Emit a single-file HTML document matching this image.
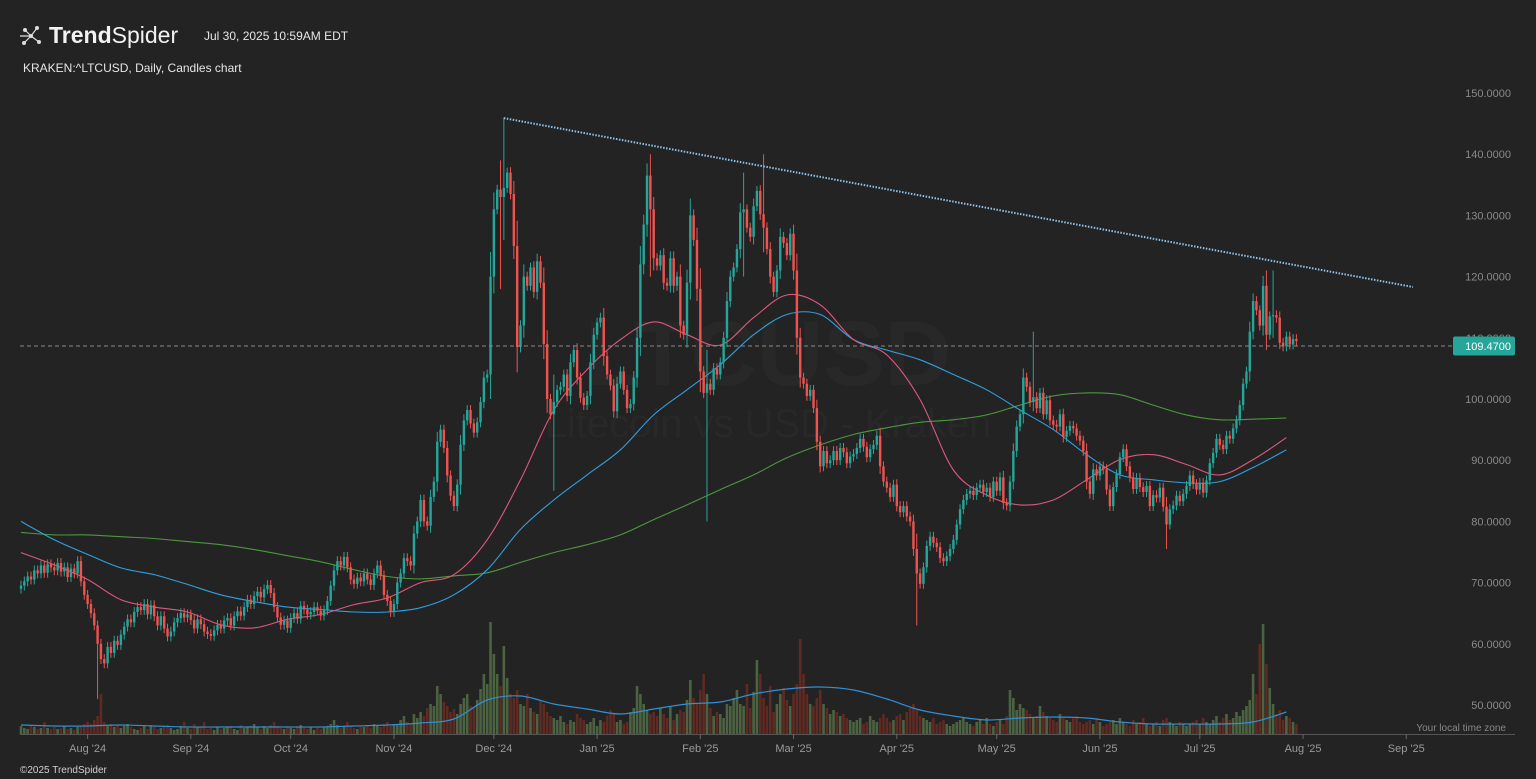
<!DOCTYPE html>
<html><head><meta charset="utf-8"><style>
html,body{margin:0;padding:0;background:#232323;width:1536px;height:779px;overflow:hidden;font-family:"Liberation Sans",sans-serif}
svg{position:absolute;left:0;top:0}
</style></head><body>
<svg id="chart" width="1536" height="779">
<rect width="1536" height="779" fill="#232323"/>
<g>
<text x="768" y="385" text-anchor="middle" font-size="92" font-weight="bold" fill="#282828">LTCUSD</text>
<text x="768" y="437" text-anchor="middle" font-size="40" fill="#282828">Litecoin vs USD - Kraken</text>
</g>
<g>
<circle cx="25" cy="30" r="2" fill="#ddd"/><circle cx="37" cy="28" r="2" fill="#ddd"/><circle cx="31" cy="36" r="2" fill="#ddd"/><circle cx="24" cy="43" r="2" fill="#ddd"/><circle cx="39" cy="42" r="2" fill="#ddd"/>
<path d="M25 30L31 36L37 28M31 36L24 43M31 36L39 42M20 36L31 36" stroke="#ddd" stroke-width="1.2" fill="none"/>
<text x="49" y="43" font-size="23" fill="#f2f2f2"><tspan font-weight="bold">Trend</tspan>Spider</text>
</g>
<text x="204" y="40" font-size="12" fill="#e6e6e6">Jul 30, 2025 10:59AM EDT</text>
<text x="23" y="72" font-size="12" fill="#e6e6e6">KRAKEN:^LTCUSD, Daily, Candles chart</text>
<text x="20" y="773" font-size="10" fill="#cfcfcf">©2025 TrendSpider</text>
<text x="1506" y="731" font-size="10" fill="#888" text-anchor="end">Your local time zone</text>
<line x1="20" y1="734.5" x2="1515" y2="734.5" stroke="#555"/>
<g id="yaxis"></g>
<g id="xaxis"></g>
<g id="vol"></g>
<g id="lines"></g>
<g id="candles"></g>
<g id="overlay"></g>
</svg>
<script>
const closes = [
69.5,70.2,71,70.5,72,71.5,72.8,71.6,73,72.5,
72,73.2,71.8,72.5,70.9,72.3,71.5,73.5,70.2,68,
66.5,65,63,60,57.5,56.8,59.5,58.5,60.5,59.8,
61.5,62.8,64,63.5,65.2,66,65.5,66.5,64.8,66.3,
64.5,63,64.5,62.5,61.2,62,63.5,64.2,65,64.3,
64.8,63.9,62.5,64,63.2,62,61.6,61.3,62.2,63.1,
62.5,63.8,64.2,63,64.5,65.3,64.6,66,67.2,66.5,
67.8,68.5,67.6,68.9,69.6,68.3,66,64.3,63.1,63.8,
62.6,64.2,65,64.1,66.2,65.6,64.8,65.2,66,65.4,
64.6,65.5,67,69.5,72,73.5,72.8,74.2,72.5,70.5,
69.8,70.8,70.2,71.5,70.5,69.6,71.5,72.8,71.2,68,
67,65.2,66.5,70,71.5,74,73.5,72.8,78,80,
83.5,80,79.3,84,86.5,93,95,92,87.5,84.2,
82.5,86,92.5,96.5,98.2,96,94.5,96.2,99.5,103.5,
104,120,131,134.2,133,134.5,137,133.5,125,108.5,
112,120,118.5,121.5,117.5,122.5,119,109,100,97.5,
99.5,101.5,102,104,100.5,106,108,103.5,100.2,99,
100.5,106,110.5,112.5,113.3,107,104,102.2,98,102.5,
104.5,101.5,98.5,99.2,103.5,110,122,128.5,136.5,131,
123,121.8,123.5,119,118.5,123,118.5,120,112,110.5,
119,130,126,118,104.5,101,102.5,101.5,105,104,
106,110,116,120,121.5,124.5,130.5,131,128,126.5,
131.5,134,130.2,128,124.5,120,117.5,121,126.5,125.5,
123.5,127,121,110,103.5,102.5,100.5,101.5,98.5,93,
89,91.5,89.5,90,91.5,90,92,91.3,89.5,90.6,
91,92,93.5,92.2,90.5,91.8,92.5,94,89,86.5,
85.5,84,86,82.5,81.5,82.5,80.8,80,75.5,71.5,
69.8,72.5,76,77.5,76.5,75.8,74,73.5,74.3,75.5,
77,79.5,82,83.5,84.5,85,84.3,85.5,86,84.8,
85.5,84,86.5,85,87.2,83,82.6,86.5,91.5,95.5,
97.5,103.5,102,99.5,100.3,98.5,101,97.5,99.8,96.5,
95.8,95.5,97.5,93.8,94.8,95.6,95.2,94,93.2,91.5,
86.5,84.5,88.5,87.5,89,88.5,85.2,82.5,85.6,87.7,
90.5,91.8,89,87.2,85.3,87.1,85.6,84.8,85.8,82.5,
84.3,83.9,85.5,82.4,79.5,82,82.6,84.2,83.3,84.5,
85.8,87.5,86.1,85.2,86.3,84.7,86.7,89.5,91.2,93.5,
92.5,91.8,94,93.5,95.2,96.5,99,102.5,104.5,111,
116,114.5,112,118.5,110.5,113.5,113.7,113.3,109.2,108.6,
110.2,108.9,109.8,109.47];
const firstOpen = 69.0;
// notable wick extremes: [dayIndex, high, low]
const wickDays = [[23,60,51],[145,146,126],[144,139,118],[160,104,85],[189,140,120],[206,108,80],[217,137,120],[223,140,124],[269,78,63],[304,111,98],[344,84,75.5],[374,121,108],[376,121,110]];
const volumes = [
8,6,5,9,7,5,6,12,6,5, 7,5,6,8,5,6,4,7,8,10, 12,10,14,18,40,12,8,10,7,9, 6,8,10,7,5,4,6,8,5,9,
7,5,6,8,9,6,4,5,8,12, 6,5,10,7,8,12,5,6,4,7, 5,6,7,8,5,4,9,6,7,8, 10,7,5,8,6,9,12,8,6,5,
7,6,5,8,9,6,5,7,4,6, 5,7,8,10,14,9,6,8,12,7, 6,5,8,7,9,6,10,8,7,10, 12,8,10,9,14,18,12,10,20,16,
22,18,26,30,28,48,40,32,28,22, 25,20,30,36,40,28,26,34,45,60, 50,112,80,60,48,88,56,40,36,44, 30,28,40,26,22,20,34,30,22,18,
16,14,18,12,10,14,12,20,16,14, 10,12,16,8,14,12,18,24,20,12, 14,10,12,22,26,48,40,30,24,20, 22,18,26,20,16,28,14,20,24,22,
34,54,36,30,44,60,40,26,18,22, 20,16,30,28,36,44,30,28,50,26, 42,74,60,36,28,48,22,30,40,46, 34,28,40,50,95,60,40,30,28,36,
44,30,26,20,24,22,18,20,16,14, 12,14,16,10,12,18,14,12,16,20, 16,12,14,18,20,14,22,26,30,24, 18,16,14,12,16,10,12,14,10,8,
10,12,14,16,12,10,8,12,14,10, 16,10,8,12,14,10,18,44,36,24, 30,26,24,20,16,18,28,22,18,16, 14,12,20,16,14,12,16,18,12,10,
12,14,10,16,12,8,10,12,14,10, 16,12,10,8,14,10,12,16,10,8, 10,12,8,14,16,12,10,8,12,10, 8,10,12,14,10,16,12,10,14,18,
12,16,20,14,16,22,18,24,28,34, 60,40,90,110,70,46,30,20,24,14, 18,16,12,10];
// moving averages sampled every 10 days
const maShort = [74.9,72.9,70.5,67.2,66,65.2,63.1,62.6,64,64.8,66.4,67.5,70,71.3,77,86.8,98.2,104.8,109.7,112.6,110.5,108.8,113.3,117,115.4,109.7,107.2,99.9,88.4,84.3,82.7,83.5,86.8,90.1,90.9,89.3,87.6,90.1,93.7];
const maMid = [80,77,74.6,72.4,71.3,69.7,68,66.9,66,65.6,65.2,65.2,65.9,68,72.1,78.7,83.5,87.6,91.7,97.4,101.5,105.6,110.5,113.8,113.8,109.7,108,106.4,104,101.5,98.2,95,90.9,87.6,86.8,86.3,86.5,88.8,91.7];
const maLong = [78.2,77.8,77.8,77.5,77.2,76.7,76.2,75.4,74.4,73.4,72.1,71,70.6,71.1,71.6,73.3,74.9,76.2,77.8,80.3,82.7,85.2,87.6,90.4,92.5,94.2,95.3,96.2,96.6,97.4,99,100.5,101,100.7,99,97.4,96.6,96.7,96.9];
const volMA = [9,8,8,9,8,7,7,7,7,7,8,9,11,15,34,38,30,25,20,25,30,32,40,45,47,44,35,24,18,14,16,17,16,12,10,10,10,12,22];
const yTicks = [150,140,130,120,110,100,90,80,70,60,50];
const xTickLabels = ["Aug '24","Sep '24","Oct '24","Nov '24","Dec '24","Jan '25","Feb '25","Mar '25","Apr '25","May '25","Jun '25","Jul '25","Aug '25","Sep '25"];
const xTickDays = [20,51,81,112,142,173,204,232,263,293,324,354,385,416];
const trendline = [[145,145.9],[418,118.3]];
const lastPrice = 109.47;

const NS="http://www.w3.org/2000/svg";
const X0=21, DX=3.33;
const xs = i => X0 + i*DX;
const ys = v => 93 + (150-v)*6.12;
const VB = 734;
const yv = v => VB - v;
function mk(tag, attrs, parent){const e=document.createElementNS(NS,tag);for(const k in attrs)e.setAttribute(k,attrs[k]);parent.appendChild(e);return e;}
const G=id=>document.getElementById(id);

yTicks.forEach(v=>{
  const t=mk('text',{x:1511,y:ys(v)+4,'text-anchor':'end','font-size':11,fill:'#8a8a8a'},G('yaxis'));
  t.textContent=v.toFixed(4);
  
  
});
xTickLabels.forEach((lab,k)=>{
  const x=xs(xTickDays[k]);
  const l=mk('line',{x1:x,y1:734,x2:x,y2:739,stroke:'#666'},G('xaxis'));
  
  
  const t=mk('text',{x:x,y:752,'text-anchor':'middle','font-size':11,fill:'#9a9a9a'},G('xaxis'));
  t.textContent=lab;
  
  
});

const opens = closes.map((c,i)=> i===0 ? firstOpen : closes[i-1]);
volumes.forEach((v,i)=>{
  if(i>=closes.length) return;
  const up = closes[i]>=opens[i];
  const r=mk('rect',{x:xs(i)-1.3,y:yv(v),width:2.6,height:v,fill:up?'#4c6341':'#5e2a22'},G('vol'));
  
  
});
function line(arr, f, color, w, name){
  const pts=arr.map((v,k)=>[xs(Math.min(k*10,closes.length-1)),f(v)]);
  let d='M'+pts[0][0].toFixed(1)+' '+pts[0][1].toFixed(1);
  for(let k=0;k<pts.length-1;k++){
    const p0=pts[Math.max(k-1,0)],p1=pts[k],p2=pts[k+1],p3=pts[Math.min(k+2,pts.length-1)];
    const c1=[p1[0]+(p2[0]-p0[0])/6,p1[1]+(p2[1]-p0[1])/6];
    const c2=[p2[0]-(p3[0]-p1[0])/6,p2[1]-(p3[1]-p1[1])/6];
    d+='C'+c1[0].toFixed(1)+' '+c1[1].toFixed(1)+' '+c2[0].toFixed(1)+' '+c2[1].toFixed(1)+' '+p2[0].toFixed(1)+' '+p2[1].toFixed(1);
  }
  const p=mk('path',{d:d,stroke:color,'stroke-width':w,fill:'none','stroke-linejoin':'round'},G('lines'));
  
  
}
line(volMA, yv, '#2f8fd8', 1.2, 'volume-ma-line');
line(maLong, ys, '#4a9a3c', 1.1, 'ma-long-line');
line(maMid, ys, '#2fa0e0', 1.1, 'ma-mid-line');
line(maShort, ys, '#e0587e', 1.1, 'ma-short-line');

closes.forEach((c,i)=>{
  const o=opens[i], up=c>=o, col=up?'#26a69a':'#ef5350';
  let hi=Math.max(o,c)+Math.max(Math.abs(c-o)*0.25,0.8);
  let lo=Math.min(o,c)-Math.max(Math.abs(c-o)*0.25,0.8);
  wickDays.forEach(w=>{ if(w[0]===i){ hi=Math.max(hi,w[1]); lo=Math.min(lo,w[2]); }});
  const x=xs(i);
  const g=mk('g',{},G('candles'));
  
  
  mk('line',{x1:x,y1:ys(hi),x2:x,y2:ys(lo),stroke:col,'stroke-width':1},g);
  const top=ys(Math.max(o,c)), h=Math.max(ys(Math.min(o,c))-top,1);
  mk('rect',{x:x-1.2,y:top,width:2.4,height:h,fill:col},g);
});

const ov=G('overlay');
const tl=mk('line',{x1:xs(trendline[0][0]),y1:ys(trendline[0][1]),x2:xs(trendline[1][0]),y2:ys(trendline[1][1]),stroke:'#8cc4ee','stroke-width':2,'stroke-dasharray':'1.5 1.5'},ov);


const py=ys(lastPrice)+5;
const pl=mk('line',{x1:20,y1:py,x2:1452,y2:py,stroke:'#8a8a8a','stroke-width':1,'stroke-dasharray':'4 3'},ov);


const bg=mk('rect',{x:1453,y:py-9.5,width:62,height:19,rx:2,fill:'#26a69a'},ov);


const bt=mk('text',{x:1511,y:py+4,'text-anchor':'end','font-size':11,fill:'#fff'},ov);
bt.textContent=lastPrice.toFixed(4);


</script>
</body></html>
